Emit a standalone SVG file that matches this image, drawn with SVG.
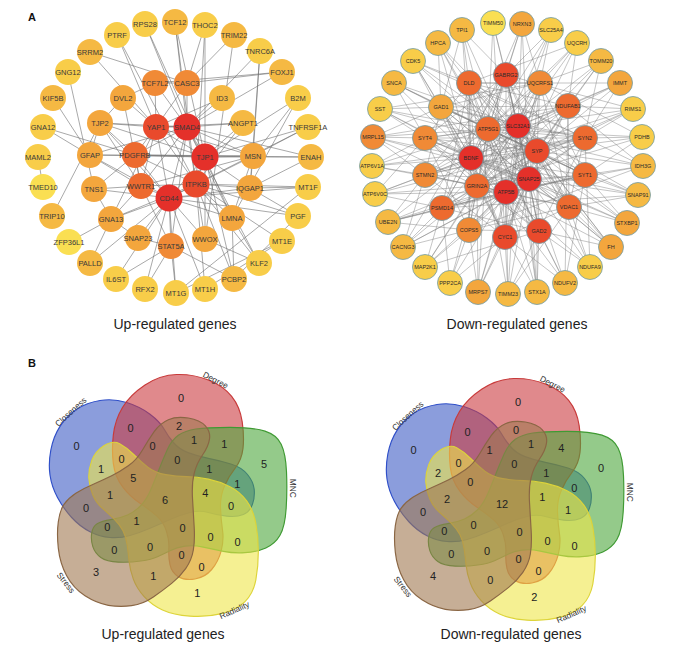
<svg xmlns="http://www.w3.org/2000/svg" width="700" height="657" viewBox="0 0 700 657">
<style>
.c1{fill:#E4302A}.c2{fill:#E94A2C}.c3{fill:#ED6A2F}.c4{fill:#F08A36}.c5{fill:#F3A63D}.c6{fill:#F5B943}.c7{fill:#F8CD49}.c8{fill:#FADF52}
.up text{font-family:"Liberation Sans",Arial,sans-serif;font-size:7.5px;text-anchor:middle;dominant-baseline:central;fill:#3a3a3a}
.dn circle{stroke:#6f9aa6;stroke-width:0.8}
.dn text{font-family:"Liberation Sans",Arial,sans-serif;font-size:5.5px;text-anchor:middle;dominant-baseline:central;fill:#2a2a2a}
.edgesL{fill:none;stroke:#6e6e6e;stroke-width:0.6}
.edgesR{fill:none;stroke:#7e7e7e;stroke-width:0.45}
.cap{font-family:"Liberation Sans",Arial,sans-serif;font-size:14px;text-anchor:middle;fill:#222}
.pl{font-family:"Liberation Sans",Arial,sans-serif;font-size:11px;font-weight:bold;fill:#111}
.vp{fill-opacity:0.6;stroke-width:3.5}
.vb{fill:#3D5CC4;stroke:#2F4FC8}.vr{fill:#CC3A40;stroke:#C83A3A}.vg{fill:#4CA63C;stroke:#3F9A33}.vy{fill:#EEE64A;stroke:#DDD43A}.vs{fill:#A07850;stroke:#8A6644}
.vn{font-family:"Liberation Sans",Arial,sans-serif;font-size:33px;text-anchor:middle;dominant-baseline:central;fill:#222}
.vl{font-family:"Liberation Sans",Arial,sans-serif;font-size:25px;text-anchor:middle;dominant-baseline:central;fill:#333}
</style>
<defs>
<g id="vennShapes">
<path class="vp vb" d="M170,208 Q200,188 240,181.5 Q280,175 320,187.5 Q360,200 390,222.5 Q420,245 432.5,267.5 Q445,290 461.5,309 Q478,328 504,338 Q530,348 565,355 Q600,362 632.5,372 Q665,382 682.5,403.5 Q700,425 702.5,447.5 Q705,470 697.5,492.5 Q690,515 670,523.5 Q650,532 620,528.5 Q590,525 565,517.5 Q540,510 510,517.5 Q480,525 450,538.5 Q420,552 390,565 Q360,578 330,586.5 Q300,595 270,592.5 Q240,590 210,575 Q180,560 155,532.5 Q130,505 112.5,472.5 Q95,440 90,405 Q85,370 92.5,330 Q100,290 120,259 Q140,228 170,208 Z"/>
<path class="vp vr" d="M307.5,202.5 Q330,165 375,135 Q420,105 470,103.5 Q520,102 565,120 Q610,138 635,169 Q660,200 666.5,245 Q673,290 669,325 Q665,360 645,385 Q625,410 612.5,440 Q600,470 601.5,505 Q603,540 607.5,570 Q612,600 603.5,632.5 Q595,665 575,688.5 Q555,712 525,717 Q495,722 475,710 Q455,698 450,674 Q445,650 446.5,625 Q448,600 439,572.5 Q430,545 410,527.5 Q390,510 360,490 Q330,470 307.5,440 Q285,410 280,370 Q275,330 280,285 Q285,240 307.5,202.5 Z"/>
<path class="vp vg" d="M441.5,330 Q455,300 475,286 Q495,272 527.5,267 Q560,262 630,262 Q700,262 735,273.5 Q770,285 783.5,312.5 Q797,340 799.5,395 Q802,450 798.5,505 Q795,560 780,586 Q765,612 737.5,624 Q710,636 675,638 Q640,640 610,634 Q580,628 550,621.5 Q520,615 495,618.5 Q470,622 450,632 Q430,642 412.5,650 Q395,658 362.5,663 Q330,668 295,666.5 Q260,665 242.5,652.5 Q225,640 218.5,620 Q212,600 215,580 Q218,560 231.5,551.5 Q245,543 272.5,539 Q300,535 322.5,525 Q345,515 362.5,496.5 Q380,478 392.5,449 Q405,420 416.5,390 Q428,360 441.5,330 Z"/>
<path class="vp vy" d="M251.5,317.5 Q278,300 299,311 Q320,322 341,343.5 Q362,365 383.5,381.5 Q405,398 437.5,404 Q470,410 500,410 Q530,410 565,417.5 Q600,425 630,440 Q660,455 680,482.5 Q700,510 707.5,550 Q715,590 715,635 Q715,680 707.5,720 Q700,760 675,785 Q650,810 605,821 Q560,832 510,828.5 Q460,825 427.5,810 Q395,795 372.5,770 Q350,745 340,717.5 Q330,690 327.5,665 Q325,640 321.5,615 Q318,590 309,572.5 Q300,555 282.5,537.5 Q265,520 246.5,504 Q228,488 218,464 Q208,440 206.5,415 Q205,390 215,362.5 Q225,335 251.5,317.5 Z"/>
<path class="vp vs" d="M445,239 Q470,228 505,234 Q540,240 556,257.5 Q572,275 568.5,297.5 Q565,320 547.5,345 Q530,370 522.5,400 Q515,430 517.5,475 Q520,520 522.5,560 Q525,600 520,630 Q515,660 497.5,685 Q480,710 455,730 Q430,750 400,771 Q370,792 335,797 Q300,802 265,796 Q230,790 195,767.5 Q160,745 140,707.5 Q120,670 115,625 Q110,580 115,545 Q120,510 132.5,492.5 Q145,475 167.5,460 Q190,445 220,432.5 Q250,420 275,407.5 Q300,395 325,377.5 Q350,360 367.5,330 Q385,300 402.5,275 Q420,250 445,239 Z"/>
<text class="vl" transform="translate(152,215) rotate(-42)">Closeness</text>
<text class="vl" transform="translate(587,120) rotate(27)">Degree</text>
<text class="vl" transform="translate(820,445) rotate(90)">MNC</text>
<text class="vl" transform="translate(643,810) rotate(-24)">Radiality</text>
<text class="vl" transform="translate(138,728) rotate(52)">Stress</text>
</g>
</defs>
<rect width="700" height="657" fill="#ffffff"/>
<text class="pl" x="28" y="21">A</text>
<text class="pl" x="28" y="367">B</text>

<g id="connectors">
<path class="edgesL" d="M187 127L156 127M187 127L205 157M187 127L187 83M187 127L155 83M187 127L222 98M187 127L100 123M187 127L135 155M187 127L141 186M187 127L196 184M187 127L169 198M187 127L253 156M187 127L243 123M187 127L282 72M187 127L260 51M187 127L145 24M187 127L175 22M187 127L232 218M187 127L171 246M187 127L90 155M187 127L259 263M187 127L311 157
M205 157L156 127M205 157L135 155M205 157L169 198M205 157L196 184M205 157L253 156M205 157L250 188M205 157L100 123M205 157L90 155M205 157L243 123M205 157L298 98M205 157L311 157M205 157L308 127M205 157L205 239M205 157L232 218M205 157L175 22M205 157L205 25M205 157L234 279
M169 198L196 184M169 198L141 186M169 198L135 155M169 198L171 246M169 198L138 238M169 198L111 219M169 198L94 189M169 198L253 156M169 198L250 188M169 198L232 218M169 198L100 123M169 198L90 155M169 198L90 263M169 198L116 279M169 198L176 293M169 198L145 289M169 198L205 239M169 198L308 187M169 198L298 216M169 198L156 127
M196 184L141 186M196 184L135 155M196 184L250 188M196 184L232 218M196 184L205 239M196 184L308 187M196 184L298 216M196 184L282 241M196 184L259 263M196 184L234 279M196 184L205 289M196 184L243 123M196 184L308 127M196 184L111 219M196 184L205 25M196 184L156 127
M156 127L141 186M156 127L135 155M156 127L155 83M156 127L100 123M156 127L123 98M156 127L187 83M156 127L243 123M156 127L253 156M156 127L111 219M156 127L222 98M156 127L117 35M156 127L90 52
M135 155L90 155M135 155L141 186M135 155L94 189M135 155L43 127M135 155L100 123M135 155L311 157M135 155L253 156
M141 186L94 189M141 186L111 219M141 186L171 246M141 186L100 123M141 186L123 98M141 186L43 127M141 186L253 156
M171 246L116 279M171 246L145 289M171 246L138 238M171 246L176 293M171 246L234 279
M155 83L123 98M155 83L187 83M100 123L123 98M100 123L90 155M94 189L111 219M111 219L69 242M100 123L52 216M53 98L90 155M68 72L94 189M43 187L38 157M282 241L205 289M282 241L176 293M308 187L176 293M298 216L234 279M282 72L155 83M282 72L187 83M260 51L253 156M260 51L250 188M298 98L232 218M298 98L253 156M298 216L250 188M308 187L250 188M234 35L187 83M234 35L205 239M175 22L196 184M145 24L205 157M117 35L196 184M90 52L187 83M232 218L259 263M205 239L259 263M253 156L232 218M253 156L250 188M234 279L232 218M205 289L169 198M138 238L111 219M90 263L111 219M205 25L187 83M308 127L253 156M311 157L250 188"/>
<path class="edgesR" d="M488 129L518 126M488 129L537 151M488 129L529 179M488 129L506 192M488 129L477 186M488 129L471 158M518 126L537 151M518 126L529 179M518 126L506 192M518 126L477 186M518 126L471 158M537 151L529 179M537 151L506 192M537 151L477 186M537 151L471 158M529 179L506 192M529 179L477 186M529 179L471 158M506 192L477 186M506 192L471 158M477 186L471 158
M488 129L469 83M488 129L506 75M488 129L540 83M488 129L568 106M488 129L585 138M488 129L585 175M488 129L569 207M488 129L539 231M488 129L505 237M488 129L469 230M488 129L442 208M488 129L425 175M488 129L425 138M488 129L441 107
M518 126L469 83M518 126L506 75M518 126L540 83M518 126L568 106M518 126L585 138M518 126L585 175M518 126L569 207M518 126L539 231M518 126L505 237M518 126L469 230M518 126L442 208M518 126L425 175M518 126L425 138M518 126L441 107
M537 151L469 83M537 151L506 75M537 151L540 83M537 151L568 106M537 151L585 138M537 151L585 175M537 151L569 207M537 151L539 231M537 151L505 237M537 151L469 230M537 151L442 208M537 151L425 175M537 151L425 138M537 151L441 107
M529 179L469 83M529 179L506 75M529 179L540 83M529 179L568 106M529 179L585 138M529 179L585 175M529 179L569 207M529 179L539 231M529 179L505 237M529 179L469 230M529 179L442 208M529 179L425 175M529 179L425 138M529 179L441 107
M506 192L469 83M506 192L506 75M506 192L540 83M506 192L568 106M506 192L585 138M506 192L585 175M506 192L569 207M506 192L539 231M506 192L505 237M506 192L469 230M506 192L442 208M506 192L425 175M506 192L425 138M506 192L441 107
M477 186L469 83M477 186L506 75M477 186L540 83M477 186L568 106M477 186L585 138M477 186L585 175M477 186L569 207M477 186L539 231M477 186L505 237M477 186L469 230M477 186L442 208M477 186L425 175M477 186L425 138M477 186L441 107
M471 158L469 83M471 158L506 75M471 158L540 83M471 158L568 106M471 158L585 138M471 158L585 175M471 158L569 207M471 158L539 231M471 158L505 237M471 158L469 230M471 158L442 208M471 158L425 175M471 158L425 138M471 158L441 107
M488 129L462 30M488 129L438 43M488 129L413 61M488 129L394 83M488 129L380 109M488 129L373 137M488 129L493 23M488 129L522 24M488 129L551 30M488 129L577 43M488 129L642 137M488 129L643 166M488 129L627 223M488 129L565 283M488 129L478 292M488 129L372 166
M518 126L493 23M518 126L522 24M518 126L551 30M518 126L577 43M518 126L601 61M518 126L620 83M518 126L633 109M518 126L438 43M518 126L394 83M518 126L425 267M518 126L508 294M518 126L537 292M518 126L611 247M518 126L638 195
M537 151L633 109M537 151L642 137M537 151L643 166M537 151L638 195M537 151L627 223M537 151L611 247M537 151L590 267M537 151L620 83M537 151L601 61M537 151L413 61M537 151L380 109M537 151L375 194M537 151L537 292
M529 179L627 223M529 179L611 247M529 179L590 267M529 179L565 283M529 179L537 292M529 179L508 294M529 179L478 292M529 179L638 195M529 179L403 247M529 179L388 222M529 179L373 137M529 179L522 24M529 179L462 30
M506 192L508 294M506 192L537 292M506 192L478 292M506 192L450 283M506 192L425 267M506 192L403 247M506 192L388 222M506 192L375 194M506 192L590 267M506 192L611 247M506 192L643 166M506 192L577 43
M477 186L425 267M477 186L403 247M477 186L388 222M477 186L375 194M477 186L372 166M477 186L373 137M477 186L450 283M477 186L478 292M477 186L551 30M477 186L601 61M477 186L633 109M477 186L642 137
M471 158L380 109M471 158L394 83M471 158L373 137M471 158L372 166M471 158L375 194M471 158L388 222M471 158L413 61M471 158L438 43M471 158L462 30M471 158L565 283M471 158L638 195M471 158L620 83
M469 83L540 83M469 83L568 106M469 83L585 138M506 75L585 175M506 75L569 207M506 75L539 231M506 75L425 175M506 75L425 138M540 83L585 175M540 83L569 207M540 83L505 237M540 83L441 107M568 106L569 207M568 106L505 237M568 106L441 107M585 138L539 231M585 138L425 175M585 138L425 138M585 175L442 208M585 175L441 107M569 207L505 237M569 207L469 230M569 207L469 83M539 231L469 230M539 231L442 208M539 231L425 138M505 237L425 175M505 237L441 107M469 230L425 138M469 230L469 83M442 208L469 83M425 175L441 107M425 138L469 83M441 107L585 138
M469 83L462 30M469 83L438 43M469 83L413 61M469 83L577 43M469 83L620 83M469 83L508 294M469 83L611 247
M506 75L493 23M506 75L522 24M506 75L462 30M506 75L551 30M506 75L633 109M506 75L403 247M506 75L537 292
M540 83L551 30M540 83L577 43M540 83L601 61M540 83L522 24M540 83L642 137M540 83L380 109M540 83L478 292
M568 106L601 61M568 106L620 83M568 106L633 109M568 106L577 43M568 106L643 166M568 106L565 283M568 106L373 137
M585 138L633 109M585 138L642 137M585 138L643 166M585 138L620 83M585 138L590 267M585 138L413 61M585 138L372 166
M585 175L643 166M585 175L638 195M585 175L627 223M585 175L642 137M585 175L565 283M585 175L394 83M585 175L388 222
M569 207L627 223M569 207L611 247M569 207L590 267M569 207L638 195M569 207L508 294M569 207L601 61M569 207L380 109
M539 231L565 283M539 231L537 292M539 231L611 247M539 231L590 267M539 231L508 294M539 231L438 43M539 231L425 267
M505 237L508 294M505 237L478 292M505 237L537 292M505 237L450 283M505 237L565 283M505 237L413 61M505 237L493 23
M469 230L478 292M469 230L450 283M469 230L425 267M469 230L403 247M469 230L388 222M469 230L643 166
M442 208L403 247M442 208L388 222M442 208L425 267M442 208L375 194M442 208L450 283M442 208L638 195M442 208L522 24
M425 175L375 194M425 175L372 166M425 175L388 222M425 175L373 137M425 175L403 247M425 175L633 109
M425 138L373 137M425 138L380 109M425 138L372 166M425 138L394 83M425 138L375 194M425 138L627 223
M441 107L394 83M441 107L413 61M441 107L380 109M441 107L438 43M441 107L462 30M441 107L373 137M441 107L611 247"/>
</g>

<g class="up">
<g id="up-PTRF"><circle class="c7" cx="117" cy="35" r="13"/><text x="117" y="35">PTRF</text></g>
<g id="up-RPS28"><circle class="c7" cx="145" cy="24" r="13"/><text x="145" y="24">RPS28</text></g>
<g id="up-TCF12"><circle class="c6" cx="175" cy="22" r="13"/><text x="175" y="22">TCF12</text></g>
<g id="up-THOC2"><circle class="c7" cx="205" cy="25" r="13"/><text x="205" y="25">THOC2</text></g>
<g id="up-TRIM22"><circle class="c6" cx="234" cy="35" r="13"/><text x="234" y="35">TRIM22</text></g>
<g id="up-TNRC6A"><circle class="c7" cx="260" cy="51" r="13"/><text x="260" y="51">TNRC6A</text></g>
<g id="up-FOXJ1"><circle class="c6" cx="282" cy="72" r="13"/><text x="282" y="72">FOXJ1</text></g>
<g id="up-B2M"><circle class="c7" cx="298" cy="98" r="13"/><text x="298" y="98">B2M</text></g>
<g id="up-TNFRSF1A"><circle class="c7" cx="308" cy="127" r="13"/><text x="308" y="127">TNFRSF1A</text></g>
<g id="up-ENAH"><circle class="c6" cx="311" cy="157" r="13"/><text x="311" y="157">ENAH</text></g>
<g id="up-MT1F"><circle class="c7" cx="308" cy="187" r="13"/><text x="308" y="187">MT1F</text></g>
<g id="up-PGF"><circle class="c7" cx="298" cy="216" r="13"/><text x="298" y="216">PGF</text></g>
<g id="up-MT1E"><circle class="c7" cx="282" cy="241" r="13"/><text x="282" y="241">MT1E</text></g>
<g id="up-KLF2"><circle class="c7" cx="259" cy="263" r="13"/><text x="259" y="263">KLF2</text></g>
<g id="up-PCBP2"><circle class="c6" cx="234" cy="279" r="13"/><text x="234" y="279">PCBP2</text></g>
<g id="up-MT1H"><circle class="c7" cx="205" cy="289" r="13"/><text x="205" y="289">MT1H</text></g>
<g id="up-MT1G"><circle class="c7" cx="176" cy="293" r="13"/><text x="176" y="293">MT1G</text></g>
<g id="up-RFX2"><circle class="c7" cx="145" cy="289" r="13"/><text x="145" y="289">RFX2</text></g>
<g id="up-IL6ST"><circle class="c7" cx="116" cy="279" r="13"/><text x="116" y="279">IL6ST</text></g>
<g id="up-PALLD"><circle class="c6" cx="90" cy="263" r="13"/><text x="90" y="263">PALLD</text></g>
<g id="up-ZFP36L1"><circle class="c8" cx="69" cy="242" r="13"/><text x="69" y="242">ZFP36L1</text></g>
<g id="up-TRIP10"><circle class="c6" cx="52" cy="216" r="13"/><text x="52" y="216">TRIP10</text></g>
<g id="up-TMED10"><circle class="c8" cx="43" cy="187" r="13"/><text x="43" y="187">TMED10</text></g>
<g id="up-MAML2"><circle class="c7" cx="38" cy="157" r="13"/><text x="38" y="157">MAML2</text></g>
<g id="up-GNA12"><circle class="c7" cx="43" cy="127" r="13"/><text x="43" y="127">GNA12</text></g>
<g id="up-KIF5B"><circle class="c6" cx="53" cy="98" r="13"/><text x="53" y="98">KIF5B</text></g>
<g id="up-GNG12"><circle class="c7" cx="68" cy="72" r="13"/><text x="68" y="72">GNG12</text></g>
<g id="up-SRRM2"><circle class="c6" cx="90" cy="52" r="13"/><text x="90" y="52">SRRM2</text></g>
<g id="up-TCF7L2"><circle class="c4" cx="155" cy="83" r="13"/><text x="155" y="83">TCF7L2</text></g>
<g id="up-CASC3"><circle class="c4" cx="187" cy="83" r="13"/><text x="187" y="83">CASC3</text></g>
<g id="up-ID3"><circle class="c6" cx="222" cy="98" r="13"/><text x="222" y="98">ID3</text></g>
<g id="up-ANGPT1"><circle class="c6" cx="243" cy="123" r="13"/><text x="243" y="123">ANGPT1</text></g>
<g id="up-MSN"><circle class="c5" cx="253" cy="156" r="13"/><text x="253" y="156">MSN</text></g>
<g id="up-IQGAP1"><circle class="c5" cx="250" cy="188" r="13"/><text x="250" y="188">IQGAP1</text></g>
<g id="up-LMNA"><circle class="c5" cx="232" cy="218" r="13"/><text x="232" y="218">LMNA</text></g>
<g id="up-WWOX"><circle class="c5" cx="205" cy="239" r="13"/><text x="205" y="239">WWOX</text></g>
<g id="up-STAT5A"><circle class="c4" cx="171" cy="246" r="13"/><text x="171" y="246">STAT5A</text></g>
<g id="up-SNAP23"><circle class="c5" cx="138" cy="238" r="13"/><text x="138" y="238">SNAP23</text></g>
<g id="up-GNA13"><circle class="c5" cx="111" cy="219" r="13"/><text x="111" y="219">GNA13</text></g>
<g id="up-TNS1"><circle class="c5" cx="94" cy="189" r="13"/><text x="94" y="189">TNS1</text></g>
<g id="up-GFAP"><circle class="c5" cx="90" cy="155" r="13"/><text x="90" y="155">GFAP</text></g>
<g id="up-TJP2"><circle class="c5" cx="100" cy="123" r="13"/><text x="100" y="123">TJP2</text></g>
<g id="up-DVL2"><circle class="c5" cx="123" cy="98" r="13"/><text x="123" y="98">DVL2</text></g>
<g id="up-YAP1"><circle class="c2" cx="156" cy="127" r="13"/><text x="156" y="127">YAP1</text></g>
<g id="up-SMAD4"><circle class="c1" cx="187" cy="127" r="13.5"/><text x="187" y="127">SMAD4</text></g>
<g id="up-PDGFRB"><circle class="c3" cx="135" cy="155" r="13"/><text x="135" y="155">PDGFRB</text></g>
<g id="up-TJP1"><circle class="c1" cx="205" cy="157" r="13.5"/><text x="205" y="157">TJP1</text></g>
<g id="up-WWTR1"><circle class="c3" cx="141" cy="186" r="13"/><text x="141" y="186">WWTR1</text></g>
<g id="up-ITPKB"><circle class="c2" cx="196" cy="184" r="13.5"/><text x="196" y="184">ITPKB</text></g>
<g id="up-CD44"><circle class="c1" cx="169" cy="198" r="13.5"/><text x="169" y="198">CD44</text></g>
</g>

<g class="dn">
<g id="dn-TIMM50"><circle class="c8" cx="493" cy="23" r="12.5"/><text x="493" y="23">TIMM50</text></g>
<g id="dn-TPI1"><circle class="c6" cx="462" cy="30" r="12.5"/><text x="462" y="30">TPI1</text></g>
<g id="dn-HPCA"><circle class="c6" cx="438" cy="43" r="12.5"/><text x="438" y="43">HPCA</text></g>
<g id="dn-CDK5"><circle class="c7" cx="413" cy="61" r="12.5"/><text x="413" y="61">CDK5</text></g>
<g id="dn-SNCA"><circle class="c6" cx="394" cy="83" r="12.5"/><text x="394" y="83">SNCA</text></g>
<g id="dn-SST"><circle class="c7" cx="380" cy="109" r="12.5"/><text x="380" y="109">SST</text></g>
<g id="dn-MRPL15"><circle class="c4" cx="373" cy="137" r="12.5"/><text x="373" y="137">MRPL15</text></g>
<g id="dn-ATP6V1A"><circle class="c7" cx="372" cy="166" r="12.5"/><text x="372" y="166">ATP6V1A</text></g>
<g id="dn-ATP6V0C"><circle class="c7" cx="375" cy="194" r="12.5"/><text x="375" y="194">ATP6V0C</text></g>
<g id="dn-UBE2N"><circle class="c6" cx="388" cy="222" r="12.5"/><text x="388" y="222">UBE2N</text></g>
<g id="dn-CACNG3"><circle class="c6" cx="403" cy="247" r="12.5"/><text x="403" y="247">CACNG3</text></g>
<g id="dn-MAP2K1"><circle class="c7" cx="425" cy="267" r="12.5"/><text x="425" y="267">MAP2K1</text></g>
<g id="dn-PPP2CA"><circle class="c7" cx="450" cy="283" r="12.5"/><text x="450" y="283">PPP2CA</text></g>
<g id="dn-MRPS7"><circle class="c5" cx="478" cy="292" r="12.5"/><text x="478" y="292">MRPS7</text></g>
<g id="dn-TIMM23"><circle class="c6" cx="508" cy="294" r="12.5"/><text x="508" y="294">TIMM23</text></g>
<g id="dn-STX1A"><circle class="c6" cx="537" cy="292" r="12.5"/><text x="537" y="292">STX1A</text></g>
<g id="dn-NDUFV2"><circle class="c6" cx="565" cy="283" r="12.5"/><text x="565" y="283">NDUFV2</text></g>
<g id="dn-NDUFA9"><circle class="c7" cx="590" cy="267" r="12.5"/><text x="590" y="267">NDUFA9</text></g>
<g id="dn-FH"><circle class="c5" cx="611" cy="247" r="12.5"/><text x="611" y="247">FH</text></g>
<g id="dn-STXBP1"><circle class="c5" cx="627" cy="223" r="12.5"/><text x="627" y="223">STXBP1</text></g>
<g id="dn-SNAP91"><circle class="c6" cx="638" cy="195" r="12.5"/><text x="638" y="195">SNAP91</text></g>
<g id="dn-IDH3G"><circle class="c6" cx="643" cy="166" r="12.5"/><text x="643" y="166">IDH3G</text></g>
<g id="dn-PDHB"><circle class="c7" cx="642" cy="137" r="12.5"/><text x="642" y="137">PDHB</text></g>
<g id="dn-RIMS1"><circle class="c7" cx="633" cy="109" r="12.5"/><text x="633" y="109">RIMS1</text></g>
<g id="dn-IMMT"><circle class="c5" cx="620" cy="83" r="12.5"/><text x="620" y="83">IMMT</text></g>
<g id="dn-TOMM20"><circle class="c6" cx="601" cy="61" r="12.5"/><text x="601" y="61">TOMM20</text></g>
<g id="dn-UQCRH"><circle class="c7" cx="577" cy="43" r="12.5"/><text x="577" y="43">UQCRH</text></g>
<g id="dn-SLC25A4"><circle class="c7" cx="551" cy="30" r="12.5"/><text x="551" y="30">SLC25A4</text></g>
<g id="dn-NRXN3"><circle class="c5" cx="522" cy="24" r="12.5"/><text x="522" y="24">NRXN3</text></g>
<g id="dn-DLD"><circle class="c3" cx="469" cy="83" r="12.5"/><text x="469" y="83">DLD</text></g>
<g id="dn-GABRG2"><circle class="c2" cx="506" cy="75" r="12.5"/><text x="506" y="75">GABRG2</text></g>
<g id="dn-UQCRFS1"><circle class="c4" cx="540" cy="83" r="12.5"/><text x="540" y="83">UQCRFS1</text></g>
<g id="dn-NDUFAB1"><circle class="c3" cx="568" cy="106" r="12.5"/><text x="568" y="106">NDUFAB1</text></g>
<g id="dn-SYN2"><circle class="c3" cx="585" cy="138" r="12.5"/><text x="585" y="138">SYN2</text></g>
<g id="dn-SYT1"><circle class="c3" cx="585" cy="175" r="12.5"/><text x="585" y="175">SYT1</text></g>
<g id="dn-VDAC1"><circle class="c3" cx="569" cy="207" r="12.5"/><text x="569" y="207">VDAC1</text></g>
<g id="dn-GAD2"><circle class="c2" cx="539" cy="231" r="12.5"/><text x="539" y="231">GAD2</text></g>
<g id="dn-CYC1"><circle class="c2" cx="505" cy="237" r="12.5"/><text x="505" y="237">CYC1</text></g>
<g id="dn-COPS5"><circle class="c4" cx="469" cy="230" r="12.5"/><text x="469" y="230">COPS5</text></g>
<g id="dn-PSMD14"><circle class="c3" cx="442" cy="208" r="12.5"/><text x="442" y="208">PSMD14</text></g>
<g id="dn-STMN2"><circle class="c4" cx="425" cy="175" r="12.5"/><text x="425" y="175">STMN2</text></g>
<g id="dn-SYT4"><circle class="c4" cx="425" cy="138" r="12.5"/><text x="425" y="138">SYT4</text></g>
<g id="dn-GAD1"><circle class="c5" cx="441" cy="107" r="12.5"/><text x="441" y="107">GAD1</text></g>
<g id="dn-ATP5G1"><circle class="c3" cx="488" cy="129" r="12.5"/><text x="488" y="129">ATP5G1</text></g>
<g id="dn-SLC32A1"><circle class="c1" cx="518" cy="126" r="12.5"/><text x="518" y="126">SLC32A1</text></g>
<g id="dn-SYP"><circle class="c2" cx="537" cy="151" r="12.5"/><text x="537" y="151">SYP</text></g>
<g id="dn-SNAP25"><circle class="c1" cx="529" cy="179" r="12.5"/><text x="529" y="179">SNAP25</text></g>
<g id="dn-ATP5B"><circle class="c1" cx="506" cy="192" r="12.5"/><text x="506" y="192">ATP5B</text></g>
<g id="dn-GRIN2A"><circle class="c3" cx="477" cy="186" r="12.5"/><text x="477" y="186">GRIN2A</text></g>
<g id="dn-BDNF"><circle class="c1" cx="471" cy="158" r="12.5"/><text x="471" y="158">BDNF</text></g>
</g>

<text class="cap" x="175" y="329">Up-regulated genes</text>
<text class="cap" x="517" y="329">Down-regulated genes</text>

<g id="venn-up" transform="translate(20,340) scale(0.33333)">
<use href="#vennShapes"/>
<g class="vn-labels">
<text class="vn" x="483" y="175">0</text><text class="vn" x="170" y="318">0</text><text class="vn" x="332" y="265">0</text><text class="vn" x="477" y="257">2</text><text class="vn" x="398" y="318">0</text><text class="vn" x="522" y="300">1</text><text class="vn" x="613" y="312">1</text><text class="vn" x="732" y="373">5</text><text class="vn" x="243" y="387">1</text><text class="vn" x="305" y="357">0</text><text class="vn" x="472" y="360">0</text><text class="vn" x="568" y="387">1</text><text class="vn" x="340" y="415">5</text><text class="vn" x="652" y="432">1</text><text class="vn" x="270" y="465">1</text><text class="vn" x="435" y="480">6</text><text class="vn" x="556" y="458">4</text><text class="vn" x="198" y="505">0</text><text class="vn" x="633" y="497">0</text><text class="vn" x="350" y="543">1</text><text class="vn" x="262" y="562">0</text><text class="vn" x="488" y="565">0</text><text class="vn" x="572" y="590">0</text><text class="vn" x="653" y="605">0</text><text class="vn" x="283" y="630">0</text><text class="vn" x="390" y="622">0</text><text class="vn" x="485" y="645">0</text><text class="vn" x="228" y="697">3</text><text class="vn" x="545" y="680">0</text><text class="vn" x="400" y="707">1</text><text class="vn" x="532" y="760">1</text>
</g>
</g>

<g id="venn-down" transform="translate(357,344) scale(0.33333)">
<use href="#vennShapes"/>
<g class="vn-labels">
<text class="vn" x="483" y="175">0</text><text class="vn" x="170" y="318">0</text><text class="vn" x="332" y="265">0</text><text class="vn" x="477" y="257">0</text><text class="vn" x="398" y="318">1</text><text class="vn" x="522" y="300">1</text><text class="vn" x="613" y="312">4</text><text class="vn" x="732" y="373">0</text><text class="vn" x="243" y="387">2</text><text class="vn" x="305" y="357">0</text><text class="vn" x="472" y="360">0</text><text class="vn" x="568" y="387">1</text><text class="vn" x="340" y="415">0</text><text class="vn" x="652" y="432">0</text><text class="vn" x="270" y="465">2</text><text class="vn" x="435" y="480">12</text><text class="vn" x="556" y="458">1</text><text class="vn" x="198" y="505">0</text><text class="vn" x="633" y="497">1</text><text class="vn" x="350" y="543">0</text><text class="vn" x="262" y="562">0</text><text class="vn" x="488" y="565">0</text><text class="vn" x="572" y="590">0</text><text class="vn" x="653" y="605">0</text><text class="vn" x="283" y="630">0</text><text class="vn" x="390" y="622">0</text><text class="vn" x="485" y="645">0</text><text class="vn" x="228" y="697">4</text><text class="vn" x="545" y="680">0</text><text class="vn" x="400" y="707">0</text><text class="vn" x="532" y="760">2</text>
</g>
</g>

<text class="cap" x="163" y="639">Up-regulated genes</text>
<text class="cap" x="511" y="639">Down-regulated genes</text>
</svg>
